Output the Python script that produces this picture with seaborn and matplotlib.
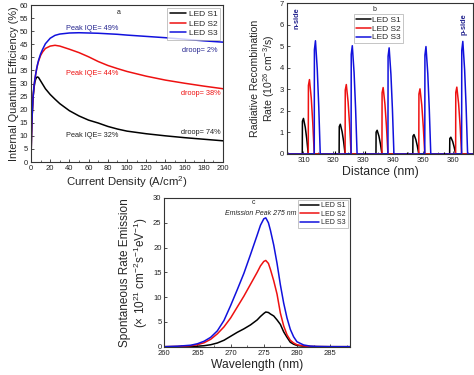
import numpy as np
import pandas as pd
import matplotlib
matplotlib.use('Agg')
import matplotlib.pyplot as plt
import seaborn as sns
from matplotlib.ticker import MultipleLocator

# ---- panel a: IQE vs current density
current = [0, 0.5, 1, 2, 3, 4, 5, 6, 7, 8, 10, 12, 15, 20, 25, 30, 40, 50,
           60, 70, 80, 90, 100, 120, 140, 160, 180, 200]
iqe_s1 = [0, 10, 16, 24, 28, 30.5, 31.8, 32.4, 32.5, 32.2, 31, 29.8, 28, 25.8,
          24, 22.3, 19.6, 17.6, 16, 14.9, 13.6, 12.6, 11.8, 10.8, 10, 9.3, 8.7, 8.1]
iqe_s2 = [0, 10, 16, 24, 28.5, 31.5, 33.8, 35.8, 37.4, 38.7, 40.7, 42, 43.4, 44.3,
          44.6, 44.3, 43.1, 41.8, 40.2, 38.4, 36.9, 35.7, 34.6, 32.8, 31.3, 30.1, 29, 28]
iqe_s3 = [0, 10, 16, 24, 28.5, 31.5, 33.8, 35.9, 37.6, 39, 41.3, 43, 45.2, 47.3,
          48.4, 48.9, 49.3, 49.4, 49.3, 49.2, 49.0, 48.8, 48.5, 48.0, 47.5, 46.9, 46.3, 45.8]

# ---- panel b: radiative recombination in the wells
well_start_s1 = [309.6, 321.9, 334.2, 346.5, 358.8]
well_start_s2 = [311.6, 323.9, 336.2, 348.5, 360.8]
well_start_s3 = [313.6, 325.9, 338.2, 350.5, 362.8]
peak_s1 = [1.65, 1.38, 1.10, 0.90, 0.78]
peak_s2 = [3.45, 3.22, 3.08, 3.02, 3.10]
peak_s3 = [5.25, 5.02, 4.92, 4.98, 5.22]
# shape of one well peak (offset in nm, fraction of peak)
shape_dx = [0, 0.05, 0.4, 1.0, 1.5, 2.0]
shape_fy = [0, 0.92, 1.0, 0.75, 0.42, 0]
blip_x = [320.4, 330.7, 344.6, 356.8]
blip_h = [0.12, 0.12, 0.08, 0.08]

# ---- panel c: spontaneous emission spectra
wavelength = [260, 262, 264, 265, 266, 267, 268, 269, 270, 271, 272, 273, 274, 274.5,
              275, 275.3, 275.7, 276, 276.5, 277, 277.5, 278, 278.5, 279, 279.5, 280,
              281, 282, 283, 285, 288]
spon_s1 = [0, 0.01, 0.05, 0.1, 0.2, 0.4, 0.75, 1.3, 2.1, 2.9, 3.6, 4.4, 5.4, 6.1,
           6.7, 7.0, 6.9, 6.6, 6.2, 5.4, 4.5, 3.0, 1.9, 0.9, 0.5, 0.25,
           0.1, 0.03, 0.01, 0, 0]
spon_s2 = [0, 0.05, 0.2, 0.4, 0.8, 1.5, 2.6, 4.0, 5.8, 8.0, 10.2, 12.6, 15.0, 16.3,
           17.2, 17.4, 16.8, 15.6, 13.3, 10.6, 6.8, 4.2, 2.4, 1.3, 0.75, 0.4,
           0.15, 0.05, 0.02, 0, 0]
spon_s3 = [0, 0.1, 0.3, 0.6, 1.1, 1.9, 3.2, 5.3, 8.3, 11.5, 14.8, 18.6, 22.5, 24.5,
           25.8, 26.0, 25.0, 23.5, 20.5, 16.8, 12.5, 8.8, 5.8, 3.5, 2.0, 1.0,
           0.35, 0.12, 0.05, 0.01, 0]

leds = ['LED S1', 'LED S2', 'LED S3']
palette = {'LED S1': 'black', 'LED S2': '#ee1111', 'LED S3': '#1111dd'}
navy = '#25258f'

sns.set_style('ticks')
plt.rcParams['font.family'] = ['Liberation Sans', 'DejaVu Sans']
plt.rcParams['mathtext.fontset'] = 'custom'
plt.rcParams['mathtext.rm'] = 'Liberation Sans'
plt.rcParams['mathtext.it'] = 'Liberation Sans:italic'
plt.rcParams['mathtext.default'] = 'regular'
plt.rcParams['axes.linewidth'] = 0.8
plt.rcParams['axes.edgecolor'] = '#333333'


def build_wells(starts, peaks):
    xs, ys = [304.4], [0]
    for s, p in zip(starts, peaks):
        xs += [s + d for d in shape_dx]
        ys += [p * f for f in shape_fy]
    xs.append(366.7)
    ys.append(0)
    return xs, ys


def style_axes(ax):
    ax.tick_params(which='both', direction='in', labelsize=5.5,
                   colors='#333333', labelcolor='#222222')
    ax.tick_params(axis='x', pad=2.5)
    ax.tick_params(axis='y', pad=2)
    ax.tick_params(which='major', length=2.5, width=0.6)
    ax.tick_params(which='minor', length=1.5, width=0.5)
    for sp in ax.spines.values():
        sp.set_visible(True)


def style_legend(leg):
    leg.get_frame().set_edgecolor('#999999')
    leg.get_frame().set_linewidth(0.5)
    leg.get_frame().set_boxstyle('square', pad=0)


fig = plt.figure(figsize=(4.74, 3.75), dpi=100)

# ----- a
ax_a = fig.add_axes([31 / 474, 213 / 375, 192 / 474, 157 / 375])
df_a = pd.DataFrame({
    'J': current * 3,
    'IQE': iqe_s1 + iqe_s2 + iqe_s3,
    'LED': [l for l in leds for _ in current],
})
sns.lineplot(data=df_a, x='J', y='IQE', hue='LED', palette=palette,
             estimator=None, sort=False, lw=1.1, ax=ax_a)
ax_a.set_xlim(0, 200)
ax_a.set_ylim(0, 60)
ax_a.xaxis.set_major_locator(MultipleLocator(20))
ax_a.xaxis.set_minor_locator(MultipleLocator(10))
ax_a.yaxis.set_major_locator(MultipleLocator(5))
ax_a.set_xlabel('Current Density (A/cm$^2$)', fontsize=8.2, labelpad=1)
ax_a.set_ylabel('Internal Quantum Efficiency (%)', fontsize=7.8, labelpad=0.5)
style_axes(ax_a)
ax_a.text(91, 57.3, 'a', fontsize=5, ha='center', va='center', color='#222222')
ax_a.text(36, 51, 'Peak IQE= 49%', fontsize=5.3, color=navy, va='center')
ax_a.text(194.5, 42.7, 'droop= 2%', fontsize=5.3, color=navy, va='center', ha='right')
ax_a.text(36, 33.8, 'Peak IQE= 44%', fontsize=5.3, color='#ee1111', va='center')
ax_a.text(198, 26.3, 'droop= 38%', fontsize=5.3, color='#ee1111', va='center', ha='right')
ax_a.text(36, 10.1, 'Peak IQE= 32%', fontsize=5.3, color='#222222', va='center')
ax_a.text(198, 11.3, 'droop= 74%', fontsize=5.3, color='#222222', va='center', ha='right')
leg = ax_a.legend(loc='upper right', fontsize=6, handlelength=2.0, handletextpad=0.3,
                  borderaxespad=0.35, labelspacing=0.2, borderpad=0.3, fancybox=False)
style_legend(leg)

# ----- b
ax_b = fig.add_axes([286.7 / 474, 221 / 375, 186.6 / 474, 151 / 375])
xb1, yb1 = build_wells(well_start_s1, peak_s1)
xb2, yb2 = build_wells(well_start_s2, peak_s2)
xb3, yb3 = build_wells(well_start_s3, peak_s3)
df_b = pd.DataFrame({
    'x': xb1 + xb2 + xb3,
    'rate': yb1 + yb2 + yb3,
    'LED': ['LED S1'] * len(xb1) + ['LED S2'] * len(xb2) + ['LED S3'] * len(xb3),
})
sns.lineplot(data=df_b, x='x', y='rate', hue='LED', palette=palette,
             estimator=None, sort=False, lw=1.1, ax=ax_b)
ax_b.vlines(blip_x, 0, blip_h, colors='black', lw=0.8)
ax_b.set_xlim(304.4, 366.7)
ax_b.set_ylim(0, 7)
ax_b.xaxis.set_major_locator(MultipleLocator(10))
ax_b.xaxis.set_minor_locator(MultipleLocator(5))
ax_b.yaxis.set_major_locator(MultipleLocator(1))
ax_b.set_xlabel('Distance (nm)', fontsize=8.8, labelpad=1)
ax_b.set_ylabel('Radiative Recombination\nRate (10$^{26}$ cm$^{-3}$/s)', fontsize=7.6,
                labelpad=2, linespacing=1.1)
style_axes(ax_b)
ax_b.text(307.8, 6.3, 'n-side', rotation=90, fontsize=5.3, color=navy,
          fontweight='bold', ha='center', va='center')
ax_b.text(363.7, 6.0, 'p-side', rotation=90, fontsize=5.3, color=navy,
          fontweight='bold', ha='center', va='center')
ax_b.text(0.468, 0.955, 'b', transform=ax_b.transAxes, fontsize=5, ha='center',
          va='center', color='#222222')
leg = ax_b.legend(loc='upper left', bbox_to_anchor=(0.36, 0.925), fontsize=6,
                  handlelength=1.8, handletextpad=0.2, labelspacing=0.12,
                  borderpad=0.2, borderaxespad=0, fancybox=False)
style_legend(leg)

# ----- c
ax_c = fig.add_axes([164.3 / 474, 28.3 / 375, 185.7 / 474, 148.7 / 375])
df_c = pd.DataFrame({
    'wl': wavelength * 3,
    'spon': spon_s1 + spon_s2 + spon_s3,
    'LED': [l for l in leds for _ in wavelength],
})
sns.lineplot(data=df_c, x='wl', y='spon', hue='LED', palette=palette,
             estimator=None, sort=False, lw=1.1, ax=ax_c)
ax_c.set_xlim(260, 288)
ax_c.set_ylim(0, 30)
ax_c.xaxis.set_major_locator(MultipleLocator(5))
ax_c.xaxis.set_minor_locator(MultipleLocator(2.5))
ax_c.yaxis.set_major_locator(MultipleLocator(5))
ax_c.set_xlabel('Wavelength (nm)', fontsize=8.7, labelpad=1)
ax_c.set_ylabel('Spontaneous Rate Emission\n(× 10$^{21}$ cm$^{-2}$s$^{-1}$eV$^{-1}$)',
                fontsize=8.5, labelpad=2, linespacing=1.1)
style_axes(ax_c)
ax_c.text(273.4, 29, 'c', fontsize=5, ha='center', va='center', color='#222222')
ax_c.text(274.6, 26.9, 'Emission Peak 275 nm', fontsize=5, style='italic',
          ha='center', va='center', color='#222222')
leg = ax_c.legend(loc='upper right', fontsize=5, handlelength=2.8, handletextpad=0.3,
                  labelspacing=0.2, borderpad=0.3, borderaxespad=0.3, fancybox=False)
style_legend(leg)

fig.savefig('out.png', dpi=100)
